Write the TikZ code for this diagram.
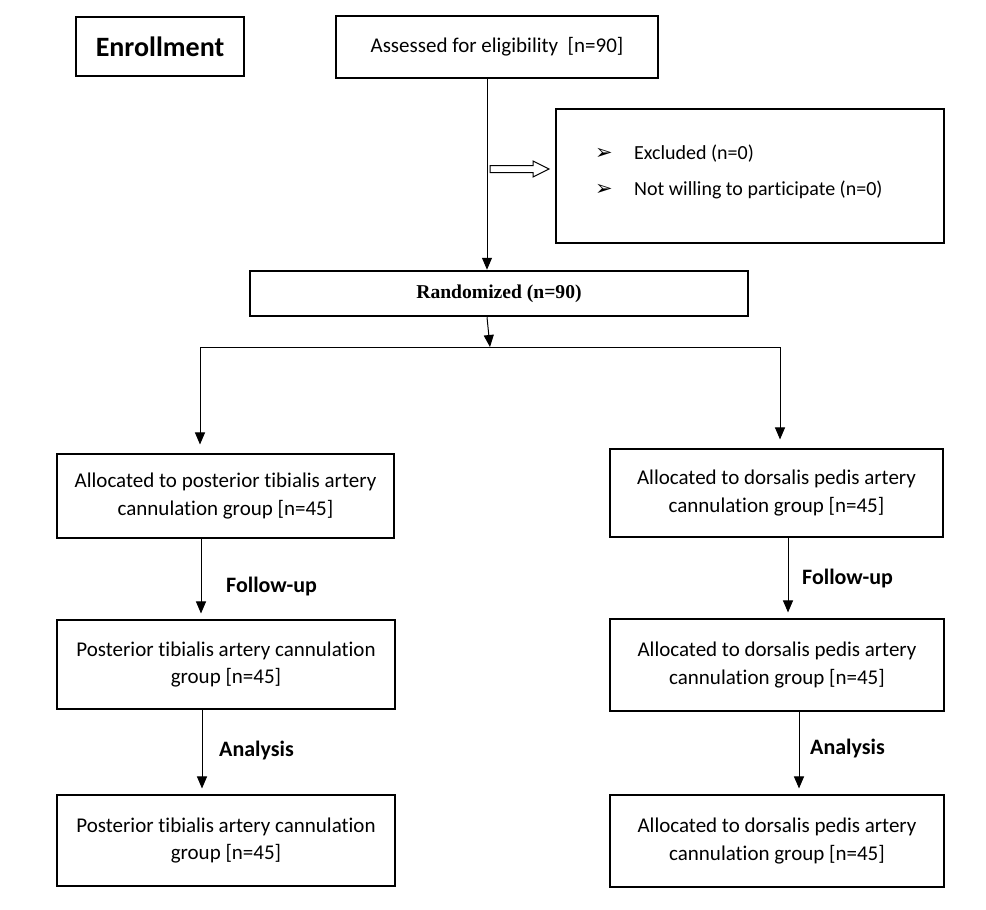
\documentclass[tikz,border=0pt]{standalone}
\usepackage{fontspec}
\setmainfont{Carlito}[Ligatures=NoCommon]
\newfontfamily\timesf{Liberation Serif}
\newfontfamily\dejavu{DejaVu Sans}
\usetikzlibrary{arrows.meta}
\begin{document}
\begin{tikzpicture}[x=1pt,y=-1pt,
  box/.style={draw,line width=1.1pt,inner sep=0pt,align=center,font=\fontsize{21}{27.5}\selectfont},
  arr/.style={-{Triangle[length=12pt,width=10pt]},line width=1pt},
  lbl/.style={font=\bfseries\fontsize{22}{26}\selectfont,anchor=west,inner sep=0pt},
  txt/.style={font=\fontsize{20}{24}\selectfont,anchor=west,inner sep=0pt},
  bul/.style={font=\dejavu\fontsize{21}{21}\selectfont,inner sep=0pt}]
\useasboundingbox[fill=white] (0,0) rectangle (986,910);

% boxes
\node[box,minimum width=168pt,minimum height=59pt,font=\bfseries\fontsize{28}{30}\selectfont] (E) at (160,46.5) {Enrollment};
\node[box,minimum width=322pt,minimum height=62pt] (A) at (497,47) {Assessed for eligibility\ \ [n=90]};
\node[box,minimum width=388pt,minimum height=134pt] (X) at (750,176) {};
\node[bul] (b1) at (604,154) {➢};
\node[bul] (b2) at (604,190) {➢};
\node[txt] (t1) at (634,154) {Excluded (n=0)};
\node[txt] (t2) at (634,190) {Not willing to participate (n=0)};
\node[box,line width=2.5pt,minimum width=498pt,minimum height=45pt,font=\timesf\bfseries\fontsize{19.6}{21}\selectfont] (R) at (499,293.5) {Randomized (n=90)};

\node[box,minimum width=337pt,minimum height=84pt] (L1) at (225.5,496) {Allocated to posterior tibialis artery\\cannulation group [n=45]};
\node[box,minimum width=333pt,minimum height=88pt] (R1) at (776.5,493) {Allocated to dorsalis pedis artery\\cannulation group [n=45]};
\node[box,minimum width=338pt,minimum height=89pt] (L2) at (226,664.5) {Posterior tibialis artery cannulation\\group [n=45]};
\node[box,minimum width=334pt,minimum height=92pt] (R2) at (777,665) {Allocated to dorsalis pedis artery\\cannulation group [n=45]};
\node[box,minimum width=338pt,minimum height=91pt] (L3) at (226,840.5) {Posterior tibialis artery cannulation\\group [n=45]};
\node[box,minimum width=334pt,minimum height=92pt] (R3) at (777,841) {Allocated to dorsalis pedis artery\\cannulation group [n=45]};

% labels
\node[lbl] (fu1) at (226,587) {Follow-up};
\node[lbl] (fu2) at (802,579) {Follow-up};
\node[lbl] (an1) at (219,751) {Analysis};
\node[lbl] (an2) at (810,749) {Analysis};

% connectors
\coordinate (va) at (487,0);
\draw[arr] (va |- A.south) -- (va |- R.north);
\coordinate (sp) at (490,347);
\draw[arr] (va |- R.south) -- (sp);
\coordinate (hl) at (200,347);
\coordinate (hr) at (780,347);
\draw[line width=1pt] (hl) -- (hr);
\draw[arr,shorten >=9pt] (hl) -- (hl |- L1.north);
\draw[arr,shorten >=9pt] (hr) -- (hr |- R1.north);

\coordinate (fl) at (201,0);
\coordinate (fr) at (788,0);
\coordinate (al) at (202,0);
\coordinate (ar) at (799,0);
\draw[arr,shorten >=6pt] (fl |- L1.south) -- (fl |- L2.north);
\draw[arr,shorten >=6pt] (fr |- R1.south) -- (fr |- R2.north);
\draw[arr,shorten >=6pt] (al |- L2.south) -- (al |- L3.north);
\draw[arr,shorten >=6pt] (ar |- R2.south) -- (ar |- R3.north);

% hollow block arrow towards exclusion box
\coordinate (ha) at (490,169);
\draw[line width=1pt,line join=miter,fill=white]
  (ha) ++(0,-3.5) -- (533,165.5) -- (533,161) -- (549,169) -- (533,177) -- (533,172.5) -- (490,172.5) -- cycle;
\end{tikzpicture}
\end{document}
